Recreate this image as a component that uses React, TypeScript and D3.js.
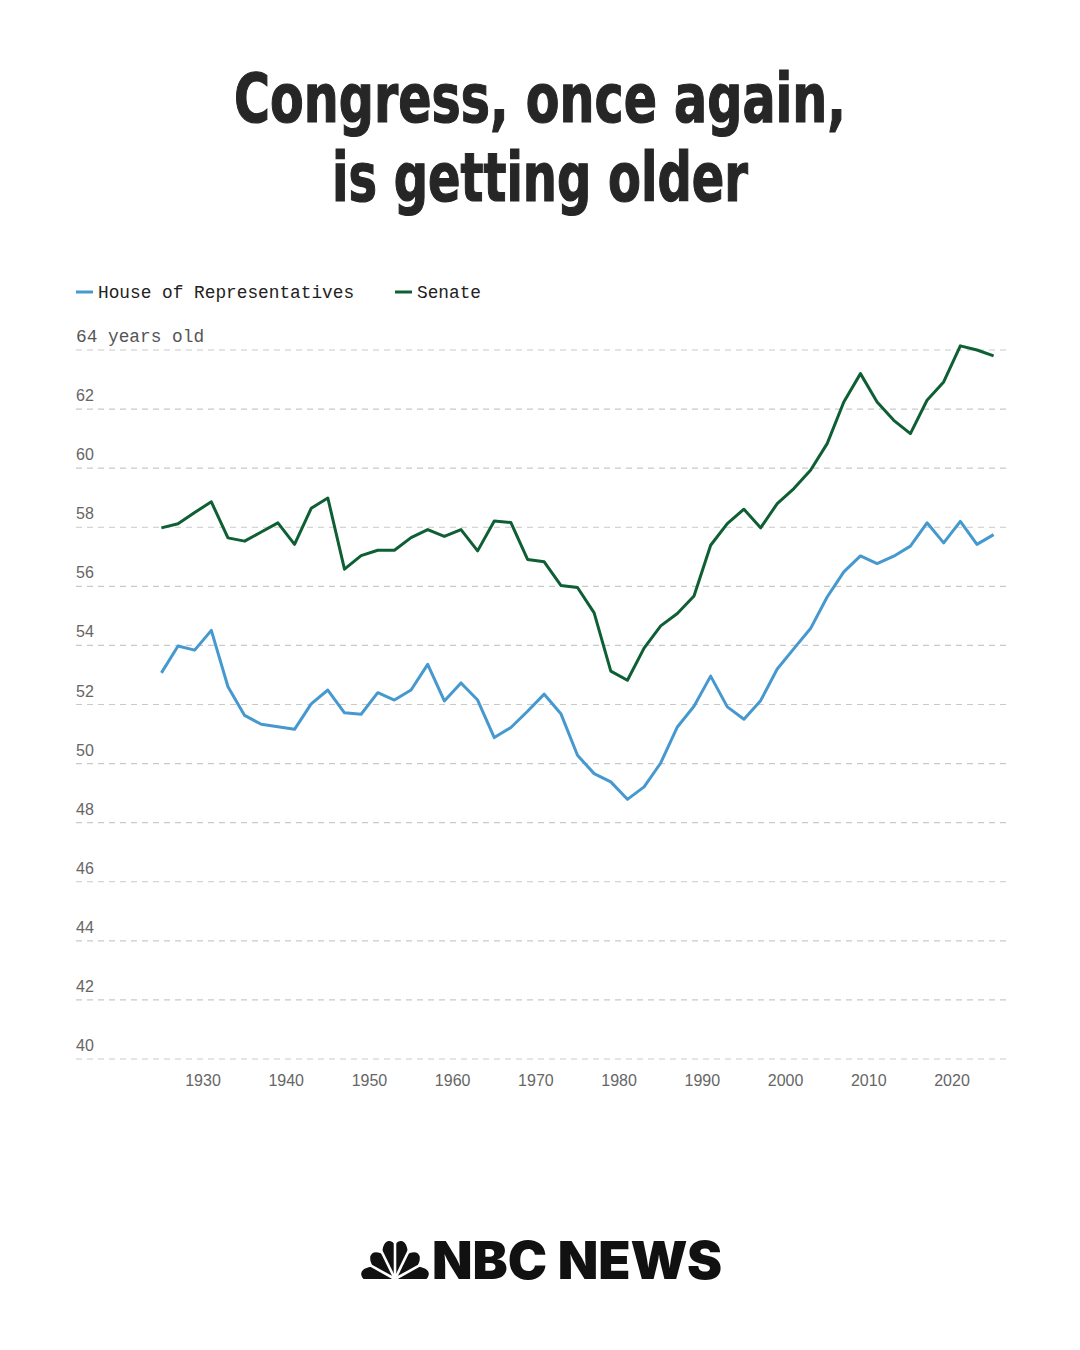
import React from 'react';
import * as d3 from 'd3';

// Congress sessions (first year of each session)
const years = [
  1925, 1927, 1929, 1931, 1933, 1935, 1937, 1939, 1941, 1943, 1945, 1947, 1949,
  1951, 1953, 1955, 1957, 1959, 1961, 1963, 1965, 1967, 1969, 1971, 1973, 1975,
  1977, 1979, 1981, 1983, 1985, 1987, 1989, 1991, 1993, 1995, 1997, 1999, 2001,
  2003, 2005, 2007, 2009, 2011, 2013, 2015, 2017, 2019, 2021, 2023, 2025,
];

const houseAge = [
  53.07, 53.98, 53.84, 54.51, 52.6, 51.63, 51.33, 51.25, 51.16, 52.02, 52.49, 51.72, 51.67,
  52.4, 52.15, 52.49, 53.36, 52.12, 52.73, 52.15, 50.88, 51.22, 51.77, 52.35, 51.69, 50.28,
  49.66, 49.38, 48.79, 49.21, 50.02, 51.24, 51.94, 52.96, 51.92, 51.5, 52.13, 53.2, 53.89,
  54.57, 55.64, 56.49, 57.03, 56.77, 57.02, 57.36, 58.15, 57.47, 58.2, 57.42, 57.75,
];

const senateAge = [
  57.98, 58.12, 58.5, 58.86, 57.64, 57.53, 57.84, 58.15, 57.42, 58.64, 58.99, 56.58, 57.04,
  57.22, 57.22, 57.65, 57.92, 57.69, 57.92, 57.2, 58.21, 58.16, 56.91, 56.83, 56.03, 55.96,
  55.1, 53.13, 52.82, 53.91, 54.66, 55.08, 55.67, 57.39, 58.12, 58.61, 57.98, 58.8, 59.31,
  59.93, 60.83, 62.24, 63.2, 62.24, 61.62, 61.17, 62.3, 62.92, 64.14, 64.0, 63.8,
];

const yTicks = [40, 42, 44, 46, 48, 50, 52, 54, 56, 58, 60, 62, 64];
const xTicks = [1930, 1940, 1950, 1960, 1970, 1980, 1990, 2000, 2010, 2020];

const titleLines = ['Congress, once again,', 'is getting older'];

const HOUSE = '#4599cf';
const SENATE = '#0e5f33';

const W = 1080;
const H = 1350;

const x = d3.scaleLinear().domain([1930, 2020]).range([203, 952]);
const y = d3.scaleLinear().domain([40, 64]).range([1059, 350]);

const mono = "'Liberation Mono', 'DejaVu Sans Mono', monospace";
const sans = "'Liberation Sans', Arial, sans-serif";

const Peacock: React.FC<{ cx: number; cy: number }> = ({ cx, cy }) => {
  // six feathers fanning out over a half circle
  const angles = [-170, -132, -100, -80, -48, -10];
  const fill = '#111';
  return (
    <g>
      {angles.map((a, i) => {
        const rad = (a * Math.PI) / 180;
        const len = i === 2 || i === 3 ? 36 : 32;
        const fx = cx + Math.cos(rad) * (len * 0.55);
        const fy = cy + Math.sin(rad) * (len * 0.55);
        return (
          <ellipse
            key={i}
            cx={fx}
            cy={fy}
            rx={len * 0.52}
            ry={9}
            transform={`rotate(${a} ${fx} ${fy})`}
            fill={fill}
          />
        );
      })}
      {angles.slice(0, 5).map((a, i) => {
        const mid = ((a + angles[i + 1]) / 2) * (Math.PI / 180);
        return (
          <line
            key={`g${i}`}
            x1={cx}
            y1={cy}
            x2={cx + Math.cos(mid) * 45}
            y2={cy + Math.sin(mid) * 45}
            stroke="#fff"
            strokeWidth={2.6}
          />
        );
      })}
      <rect x={cx - 40} y={cy} width={80} height={20} fill="#fff" />
    </g>
  );
};

const App: React.FC = () => {
  const lineGen = d3
    .line<number>()
    .x((_d, i) => x(years[i]))
    .y(d => y(d));

  return (
    <div style={{ position: 'absolute', left: 0, top: 0 }}>
      <svg width={W} height={H} viewBox={`0 0 ${W} ${H}`} style={{ display: 'block', background: '#fff' }}>
        <rect width={W} height={H} fill="#fff" />

        {/* title */}
        {titleLines.map((t, i) => (
          <text
            key={t}
            x={W / 2}
            y={122 + i * 79}
            textAnchor="middle"
            fontFamily="'DejaVu Sans Condensed', 'Liberation Sans Narrow', 'DejaVu Sans', sans-serif"
            fontWeight="bold"
            fontStretch="condensed"
            fontSize={68}
            fill="#262626"
            stroke="#262626"
            strokeWidth={1.2}
            textLength={i === 0 ? 612 : 416}
            lengthAdjust="spacingAndGlyphs"
          >
            {t}
          </text>
        ))}

        {/* legend */}
        <g fontFamily={mono} fontSize={17.8} fill="#222">
          <line x1={76} x2={93} y1={292} y2={292} stroke={HOUSE} strokeWidth={3} />
          <text x={98} y={298}>House of Representatives</text>
          <line x1={395} x2={412} y1={292} y2={292} stroke={SENATE} strokeWidth={3} />
          <text x={417} y={298}>Senate</text>
        </g>

        {/* grid + y labels */}
        {yTicks.map(t => (
          <g key={t}>
            <line
              x1={76}
              x2={1008}
              y1={y(t)}
              y2={y(t)}
              stroke="#c9c9c9"
              strokeWidth={1.2}
              strokeDasharray="6 5"
            />
            {t === 64 ? (
              <text x={76} y={y(t) - 8} fontFamily={mono} fontSize={17.8} fill="#555">
                64 years old
              </text>
            ) : (
              <text x={76} y={y(t) - 8} fontFamily={sans} fontSize={16} fill="#666">
                {t}
              </text>
            )}
          </g>
        ))}

        {/* x labels */}
        {xTicks.map(t => (
          <text key={t} x={x(t)} y={1086} textAnchor="middle" fontFamily={sans} fontSize={16} fill="#666">
            {t}
          </text>
        ))}

        {/* series */}
        <path d={lineGen(houseAge) || ''} fill="none" stroke={HOUSE} strokeWidth={3} strokeLinejoin="round" />
        <path d={lineGen(senateAge) || ''} fill="none" stroke={SENATE} strokeWidth={3} strokeLinejoin="round" />

        {/* NBC News logo */}
        <Peacock cx={395} cy={1279} />
        <text
          x={432}
          y={1279}
          fontFamily="Inter, 'Liberation Sans', sans-serif"
          fontWeight={900}
          fontSize={52}
          fill="#111"
          textLength={290}
          lengthAdjust="spacingAndGlyphs"
        >
          NBC NEWS
        </text>
      </svg>
    </div>
  );
};

export default App;
